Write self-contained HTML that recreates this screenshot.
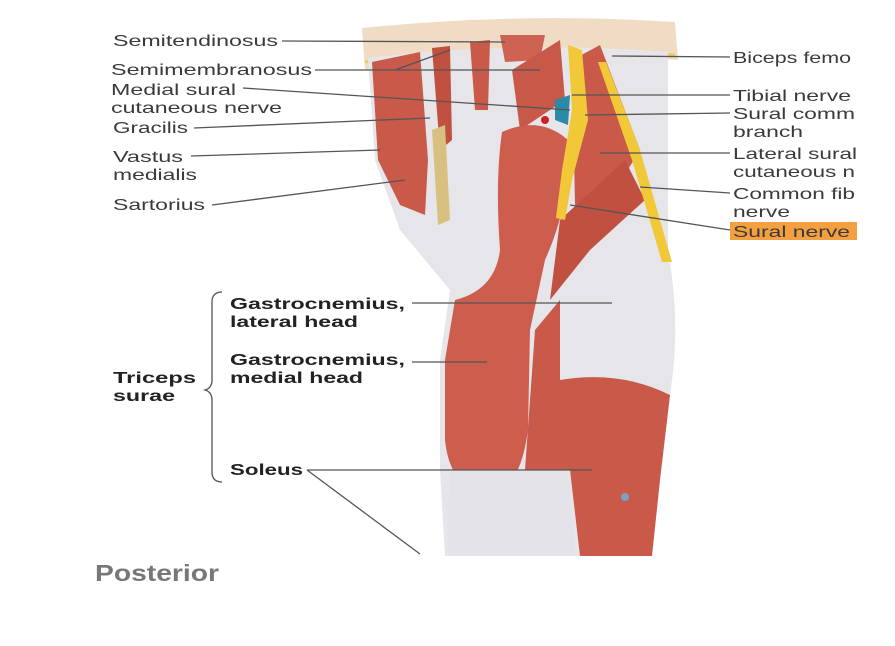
<!DOCTYPE html>
<html><head><style>
body{margin:0;background:#fff;}
svg{display:block}
text{font-family:"Liberation Sans",sans-serif;font-size:16px;fill:#3a3a3a}
.b{font-weight:bold;fill:#222}
</style></head><body>
<svg width="895" height="646" viewBox="0 0 895 646" xmlns="http://www.w3.org/2000/svg">
<path d="M362,28 Q520,12 675,22 L678,60 Q520,48 365,70 Z" fill="#f0dcc4"/>
<path d="M365,62 Q520,40 675,55" stroke="#e8d060" stroke-width="3" fill="none"/>
<path d="M368,58 Q520,40 668,52 L668,250 Q680,320 672,380 L660,480 L652,556 L445,556 L440,470 L440,360 L450,290 L400,230 L375,160 Z" fill="#e6e6ea"/>
<path d="M372,62 L420,52 L428,160 L425,215 L400,205 L378,160 Z" fill="#c95a4a"/>
<path d="M432,48 L450,46 L452,140 L440,150 Z" fill="#c0503f"/>
<path d="M470,42 L490,40 L488,110 L475,110 Z" fill="#c95a4a"/>
<path d="M500,35 L545,35 L540,60 L505,62 Z" fill="#cf6353"/>
<path d="M512,70 L560,40 L565,100 L520,130 Z" fill="#c85848"/>
<path d="M502,132 Q540,115 568,140 Q572,200 545,260 L530,330 L528,430 Q520,490 490,495 Q450,490 445,440 L445,360 L455,300 Q495,290 500,250 Q495,180 502,132 Z" fill="#cd5e4e"/>
<path d="M572,60 L600,45 L640,150 L600,215 L575,205 Z" fill="#c95a4a"/>
<path d="M560,220 L625,160 L645,200 L590,250 L550,300 Z" fill="#c0503f"/>
<path d="M535,330 L560,300 L560,380 Q620,370 670,395 L660,480 L652,556 L580,556 L570,470 L525,470 L530,400 Z" fill="#c95a4a"/>
<path d="M450,470 L570,470 L575,556 L448,556 Z" fill="#e4e4e8"/>
<path d="M432,130 L445,125 L450,220 L438,225 Z" fill="#d8c080"/>
<path d="M568,45 L582,50 L588,120 L572,180 L565,220 L556,218 L562,170 L572,110 Z" fill="#f0c838"/>
<path d="M598,62 L606,62 L640,150 L672,262 L662,262 L632,160 Z" fill="#f0c838"/>
<path d="M555,100 L570,95 L568,125 L555,120 Z" fill="#2a8aa8"/>
<circle cx="545" cy="120" r="4" fill="#d02020"/>
<circle cx="625" cy="497" r="4" fill="#7aa0c8"/>
<g stroke="#555" stroke-width="1.3" fill="none">
<line x1="282" y1="41" x2="505" y2="42"/>
<line x1="315" y1="70" x2="540" y2="70"/>
<line x1="395" y1="70" x2="450" y2="50"/>
<line x1="243" y1="88" x2="570" y2="110"/>
<line x1="194" y1="128" x2="430" y2="118"/>
<line x1="191" y1="156" x2="380" y2="150"/>
<line x1="212" y1="205" x2="405" y2="180"/>
<line x1="730" y1="57" x2="612" y2="56"/>
<line x1="730" y1="95" x2="572" y2="95"/>
<line x1="730" y1="113" x2="585" y2="115"/>
<line x1="730" y1="153" x2="600" y2="153"/>
<line x1="730" y1="193" x2="640" y2="187"/>
<line x1="730" y1="230" x2="570" y2="205"/>
<line x1="412" y1="303" x2="612" y2="303"/>
<line x1="412" y1="362" x2="487" y2="362"/>
<line x1="307" y1="470" x2="592" y2="470"/>
<line x1="307" y1="470" x2="420" y2="554"/>
<path d="M222,292 Q212,292 212,302 L212,380 Q212,388 205,390 Q212,392 212,400 L212,472 Q212,482 222,482"/>
</g>
<g lengthAdjust="spacingAndGlyphs">
<text x="113" y="46" textLength="165" lengthAdjust="spacingAndGlyphs">Semitendinosus</text>
<text x="111" y="75" textLength="201" lengthAdjust="spacingAndGlyphs">Semimembranosus</text>
<text x="111" y="95" textLength="125" lengthAdjust="spacingAndGlyphs">Medial sural</text>
<text x="111" y="113" textLength="171" lengthAdjust="spacingAndGlyphs">cutaneous nerve</text>
<text x="113" y="133" textLength="75" lengthAdjust="spacingAndGlyphs">Gracilis</text>
<text x="113" y="162" textLength="70" lengthAdjust="spacingAndGlyphs">Vastus</text>
<text x="113" y="180" textLength="84" lengthAdjust="spacingAndGlyphs">medialis</text>
<text x="113" y="210" textLength="92" lengthAdjust="spacingAndGlyphs">Sartorius</text>
<text x="733" y="63" textLength="118" lengthAdjust="spacingAndGlyphs">Biceps femo</text>
<text x="733" y="101" textLength="118" lengthAdjust="spacingAndGlyphs">Tibial nerve</text>
<text x="733" y="119" textLength="122" lengthAdjust="spacingAndGlyphs">Sural comm</text>
<text x="733" y="137" textLength="70" lengthAdjust="spacingAndGlyphs">branch</text>
<text x="733" y="159" textLength="124" lengthAdjust="spacingAndGlyphs">Lateral sural</text>
<text x="733" y="177" textLength="122" lengthAdjust="spacingAndGlyphs">cutaneous n</text>
<text x="733" y="199" textLength="122" lengthAdjust="spacingAndGlyphs">Common fib</text>
<text x="733" y="217" textLength="57" lengthAdjust="spacingAndGlyphs">nerve</text>
<rect x="730" y="222" width="128" height="18" fill="#f5a040"/>
<text x="733" y="237" textLength="117" lengthAdjust="spacingAndGlyphs">Sural nerve</text>
<rect x="857" y="0" width="38" height="646" fill="#fff"/>
<text class="b" x="230" y="309" textLength="175" lengthAdjust="spacingAndGlyphs">Gastrocnemius,</text>
<text class="b" x="230" y="327" textLength="128" lengthAdjust="spacingAndGlyphs">lateral head</text>
<text class="b" x="230" y="365" textLength="175" lengthAdjust="spacingAndGlyphs">Gastrocnemius,</text>
<text class="b" x="230" y="383" textLength="133" lengthAdjust="spacingAndGlyphs">medial head</text>
<text class="b" x="113" y="383" textLength="83" lengthAdjust="spacingAndGlyphs">Triceps</text>
<text class="b" x="113" y="401" textLength="62" lengthAdjust="spacingAndGlyphs">surae</text>
<text class="b" x="230" y="475" textLength="73" lengthAdjust="spacingAndGlyphs">Soleus</text>
<text x="95" y="581" textLength="124" lengthAdjust="spacingAndGlyphs" style="font-size:23px;font-weight:bold;fill:#777">Posterior</text>
</g>
</svg>
</body></html>
